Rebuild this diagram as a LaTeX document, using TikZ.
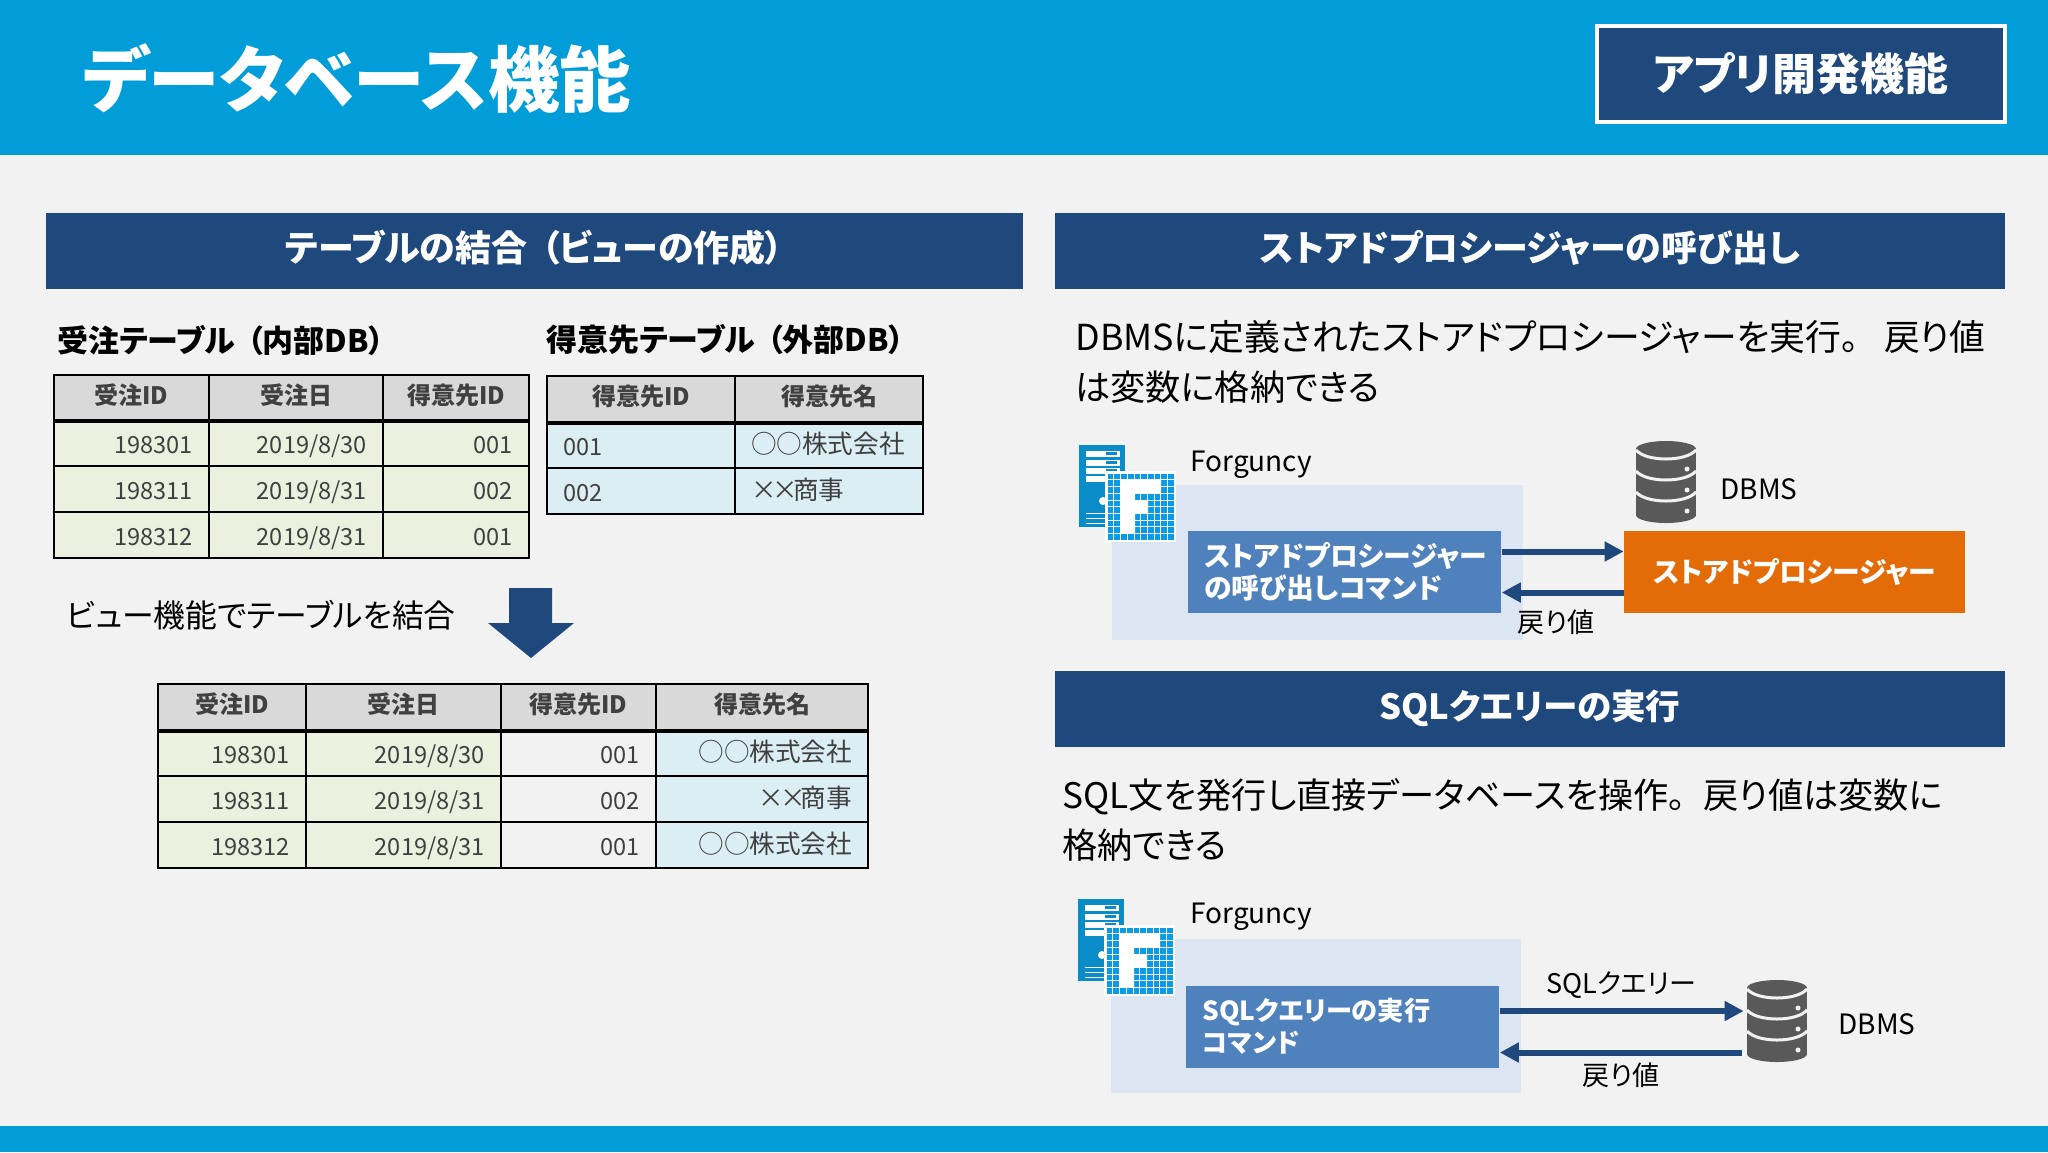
\documentclass[tikz,border=0pt]{standalone}
\usepackage{fontspec}
\usepackage{tikz}
\usetikzlibrary{arrows.meta,positioning}
\setmainfont{Noto Sans CJK JP}[RawFeature=+palt]
\definecolor{dbsky}{RGB}{0,157,217}
\definecolor{dbnavy}{RGB}{31,73,125}
\definecolor{dbpage}{RGB}{242,242,242}
\definecolor{dbhead}{RGB}{217,217,217}
\definecolor{dbgreen}{RGB}{235,241,222}
\definecolor{dbaqua}{RGB}{219,238,244}
\definecolor{dbpale}{RGB}{220,230,242}
\definecolor{dbcmd}{RGB}{79,129,189}
\definecolor{dborange}{RGB}{227,108,9}
\definecolor{dbgray}{RGB}{89,89,89}
\definecolor{dbink}{RGB}{64,64,64}
\definecolor{dbserver}{RGB}{10,140,200}
\definecolor{dbtile}{RGB}{10,155,230}
\tikzstyle{secbar} = [rectangle, fill=dbnavy, text=white, text height=11pt, text depth=0.2pt, font=\bfseries\fontsize{18}{21}\selectfont, inner sep=0pt]
\tikzstyle{tabtitle} = [anchor=west, inner sep=0pt, font=\bfseries\fontsize{15.5}{18}\selectfont]
\tikzstyle{bodytext} = [anchor=west, inner sep=0pt, font=\fontsize{17.6}{20}\selectfont]
\tikzstyle{smalltext} = [inner sep=0pt, font=\fontsize{13.5}{16}\selectfont]
\tikzstyle{latintext} = [anchor=west, inner sep=0pt, font=\fontsize{14}{16}\selectfont]
\tikzstyle{cell} = [rectangle, draw=black, line width=1pt, text=dbink, inner xsep=8pt, inner ysep=0pt, text height=10pt, text depth=0pt, font=\fontsize{11.8}{14}\selectfont]
\tikzstyle{headcell} = [cell, fill=dbhead, align=center, text height=7pt, text depth=0.4pt, font=\bfseries\fontsize{12}{14}\selectfont]
\tikzstyle{greencell} = [cell, fill=dbgreen, align=right]
\tikzstyle{aquacell} = [cell, fill=dbaqua, align=right]
\tikzstyle{aqualeft} = [cell, fill=dbaqua, align=left]
\tikzstyle{plaincell} = [cell, fill=dbpage, align=right]
\tikzstyle{headrule} = [line width=2pt, color=black]
\tikzstyle{cmdbox} = [rectangle, fill=dbcmd, text=white, align=left, inner xsep=8pt, inner ysep=0pt, text width=140.5pt, font=\bfseries\fontsize{13.9}{16}\selectfont]
\tikzstyle{arrow} = [line width=3pt, color=dbnavy, -{Triangle[length=9.5pt,width=9.5pt]}]
% wide opening bracket, company names in the cells
\newcommand{\wideopen}{\hspace{0.4em}（}
\newcommand{\kval}[1]{\raisebox{0.8pt}{\fontsize{12.8}{14}\selectfont #1}}
\newcommand{\crosses}{×\hspace{-0.15em}×\hspace{-0.2em}商事}
% one table cell from its corners, in pixels
\newcommand{\dbcell}[7]{
  \node[#6, minimum width={(#3-#2)*0.5pt}, minimum height={(#5-#4)*0.5pt}, text width={(#3-#2-32)*0.5pt}] (#1) at ({(#2+#3)/2},{(#4+#5)/2}) {#7};
}
% server with the F tile
\newcommand{\fgicon}[2]{
  \begin{scope}[shift={(#1,#2)}]
    \fill[dbserver] (0,0) rectangle (46,82);
    \foreach \y in {6,15,23,31} {
      \fill[white] (7,\y) rectangle (41,\y+6);
    }
    \foreach \y in {7,16,24} {
      \fill[dbserver] (27,\y) rectangle (38,\y+3);
    }
    \fill[white] (24,56) circle (4);
    \foreach \y in {69,74,79} {
      \fill[white] (7,\y-1) rectangle (41,\y);
    }
    \fill[white] (26,26) rectangle (97,97);
    \fill[dbtile] (28,28) rectangle (95,95);
    \foreach \i in {0,...,10} {
      \draw[white, line width=0.3pt] (28+6.7*\i,28) -- (28+6.7*\i,95);
      \draw[white, line width=0.3pt] (28,28+6.7*\i) -- (95,28+6.7*\i);
    }
    \fill[white] (42,35) -- (82,35) -- (82,48) -- (56,48) -- (56,55) -- (69,55) -- (69,68) -- (56,68) -- (56,88) -- (42,88) -- cycle;
  \end{scope}
}
% database barrel
\newcommand{\dbbarrel}[2]{
  \begin{scope}[shift={(#1,#2)}]
    \fill[dbgray] (0,8) rectangle (60,74);
    \fill[dbgray] (30,8) ellipse [x radius=30, y radius=8];
    \fill[dbgray] (30,74) ellipse [x radius=30, y radius=8];
    \foreach \y in {0,21,42} {
      \draw[dbpage, line width=1.5pt] (0,9+\y) .. controls (10,21+\y) and (50,21+\y) .. (60,9+\y);
      \fill[dbpage] (51,28+\y) circle (2.5);
    }
  \end{scope}
}
\begin{document}
\begin{tikzpicture}[x=0.5pt,y=-0.5pt]
\useasboundingbox (0,0) rectangle (2048,1152);
\fill[dbpage] (0,0) rectangle (2048,1152);

% Title band
\fill[dbsky] (0,0) rectangle (2048,155);
\fill[dbsky] (0,1126) rectangle (2048,1152);
\node[anchor=west, inner sep=0pt, text=white, font=\bfseries\fontsize{35.8}{40}\selectfont] (title) at (82,78) {データベース機能};
\node[rectangle, draw=white, line width=2pt, fill=dbnavy, text=white, minimum width=204pt, minimum height=48pt, font=\bfseries\fontsize{22}{26}\selectfont] (badge) at (1800.5,73.5) {アプリ開発機能};

% Section bars
\node[secbar, minimum width=488.5pt, minimum height=38pt] (joinbar) at (534.5,251) {テーブルの結合\wideopen ビューの作成）\hspace{3pt}};
\node[secbar, minimum width=475pt, minimum height=38pt] (procbar) at (1530,251) {ストアドプロシージャーの呼び出し};
\node[secbar, minimum width=475pt, minimum height=38pt, font=\bfseries\fontsize{17.3}{21}\selectfont] (sqlbar) at (1530,709) {SQLクエリーの実行};

% Order table
\node[tabtitle] (ordertitle) at (57,341) {受注テーブル\wideopen 内部DB）};
\dbcell{oa}{54}{209}{375}{420}{headcell}{受注ID}
\dbcell{ob}{209}{383}{375}{420}{headcell}{受注日}
\dbcell{oc}{383}{529}{375}{420}{headcell}{得意先ID}
\foreach \r/\ya/\yb/\vid/\vdate/\vcust in {1/420/466/198301/{2019/8/30}/001, 2/466/512/198311/{2019/8/31}/002, 3/512/558/198312/{2019/8/31}/001} {
  \dbcell{oa\r}{54}{209}{\ya}{\yb}{greencell}{\vid}
  \dbcell{ob\r}{209}{383}{\ya}{\yb}{greencell}{\vdate}
  \dbcell{oc\r}{383}{529}{\ya}{\yb}{greencell}{\vcust}
}
\draw[headrule] (oa.south west) -- (oc.south east);

% Customer table
\node[tabtitle] (custtitle) at (546,340) {得意先テーブル\wideopen 外部DB）};
\dbcell{ca}{547}{735}{376}{422}{headcell}{得意先ID}
\dbcell{cb}{735}{923}{376}{422}{headcell}{得意先名}
\foreach \r/\ya/\yb/\vcust/\vname in {1/422/468/001/○○株式会社, 2/468/514/002/\crosses} {
  \dbcell{ca\r}{547}{735}{\ya}{\yb}{aqualeft}{\vcust}
  \dbcell{cb\r}{735}{923}{\ya}{\yb}{aqualeft}{\kval{\vname}}
}
\draw[headrule] (ca.south west) -- (cb.south east);

% View step
\node[anchor=west, inner sep=0pt, font=\fontsize{15.9}{18}\selectfont] (viewtext) at (66,615) {ビュー機能でテーブルを結合};
\fill[dbnavy] (509,588) -- (552,588) -- (552,623) -- (574,623) -- (531,658) -- (488,623) -- (509,623) -- cycle;

% Joined table
\dbcell{va}{158}{306}{684}{730}{headcell}{受注ID}
\dbcell{vb}{306}{501}{684}{730}{headcell}{受注日}
\dbcell{vc}{501}{656}{684}{730}{headcell}{得意先ID}
\dbcell{vd}{656}{868}{684}{730}{headcell}{得意先名}
\foreach \r/\ya/\yb/\vid/\vdate/\vcust/\vname in {1/730/776/198301/{2019/8/30}/001/○○株式会社, 2/776/822/198311/{2019/8/31}/002/\crosses, 3/822/868/198312/{2019/8/31}/001/○○株式会社} {
  \dbcell{va\r}{158}{306}{\ya}{\yb}{greencell}{\vid}
  \dbcell{vb\r}{306}{501}{\ya}{\yb}{greencell}{\vdate}
  \dbcell{vc\r}{501}{656}{\ya}{\yb}{plaincell}{\vcust}
  \dbcell{vd\r}{656}{868}{\ya}{\yb}{aquacell}{\kval{\vname}}
}
\draw[headrule] (va.south west) -- (vd.south east);

% Stored procedure
\node[bodytext, font=\fontsize{17.9}{20}\selectfont] (proctext) at (1075,337) {DBMSに定義されたストアドプロシージャーを実行。\hspace{0.7em}戻り値};
\node[bodytext] (proctext2) at (1075,387) {は変数に格納できる};
\fill[dbpale] (1112,485) rectangle (1523,640);
\fgicon{1079}{445}
\node[latintext] (fgone) at (1190,465) {Forguncy};
\node[cmdbox, anchor=west, minimum width=156.5pt, minimum height=41pt] (proccmd) at (1188,572) {ストアドプロシージャー\\の呼び出しコマンド};
\node[rectangle, fill=dborange, text=white, minimum width=170.5pt, minimum height=41pt, font=\bfseries\fontsize{13.9}{16}\selectfont] (procbox) at (1794.5,572) {ストアドプロシージャー};
\dbbarrel{1636}{441}
\node[latintext] (dbone) at (1720,489) {DBMS};
\draw[arrow] ([yshift=10.25pt]proccmd.east) -- ([yshift=10.25pt]procbox.west);
\draw[arrow] ([yshift=-10.25pt]procbox.west) -- ([yshift=-10.25pt]proccmd.east);
\node[smalltext] (retone) at (1556,622) {戻り値};

% SQL query
\node[bodytext] (sqltext) at (1062,797) {SQL文を発行し直接データベースを操作。\hspace{0.5em}戻り値は変数に};
\node[bodytext] (sqltext2) at (1062,845) {格納できる};
\fill[dbpale] (1111,939) rectangle (1521,1093);
\fgicon{1078}{899}
\node[latintext] (fgtwo) at (1190,917) {Forguncy};
\node[cmdbox, anchor=west, minimum width=156.5pt, minimum height=41pt, font=\bfseries\fontsize{13.1}{16}\selectfont] (sqlcmd) at (1186,1026.5) {SQLクエリーの実行\\コマンド};
\dbbarrel{1747}{980}
\node[minimum width=30pt, minimum height=41pt, inner sep=0pt] (dbtwoicon) at (1777,1026.5) {};
\node[latintext] (dbtwo) at (1838,1024) {DBMS};
\draw[arrow, shorten >=1.5pt] ([yshift=7.75pt]sqlcmd.east) -- ([yshift=7.75pt]dbtwoicon.west);
\draw[arrow, shorten <=2.5pt] ([yshift=-13pt]dbtwoicon.west) -- ([yshift=-13pt]sqlcmd.east);
\node[smalltext] (sqlq) at (1621,985) {SQLクエリー};
\node[smalltext] (rettwo) at (1621,1075) {戻り値};
\end{tikzpicture}
\end{document}
